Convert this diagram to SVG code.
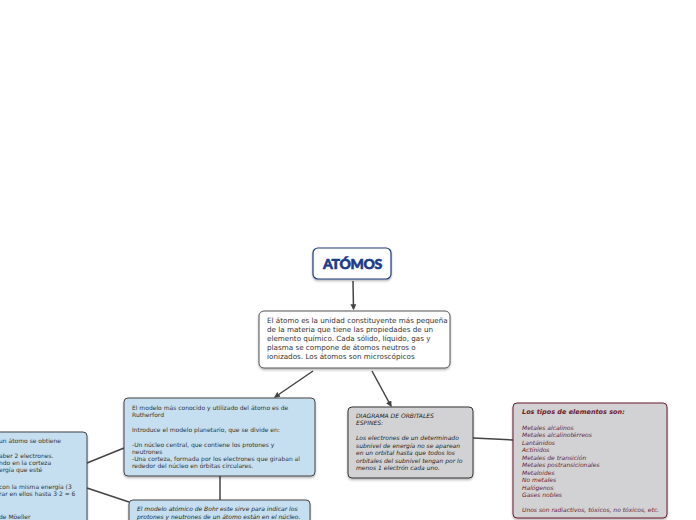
<svg xmlns="http://www.w3.org/2000/svg" width="696" height="520" viewBox="0 0 696 520">
<defs>
<marker id="ar" viewBox="0 0 10 10" refX="8" refY="5" markerWidth="4" markerHeight="4" orient="auto"><path d="M0,0L10,5L0,10z" fill="#444"/></marker>
<filter id="sh" x="-10%" y="-10%" width="120%" height="130%"><feDropShadow dx="0" dy="1.5" stdDeviation="1" flood-color="#000" flood-opacity="0.3"/></filter>
</defs>
<style>
text{font-family:"DejaVu Sans",Verdana,sans-serif;font-size:6px;fill:#333}
.b{fill:#c5dff0;stroke:#444;stroke-width:1}
.g{fill:#d2d2d4;stroke:#333;stroke-width:1}
.i{font-style:italic;fill:#222}
.m{font-style:italic;fill:#6b1a2c}
.c{stroke:#444;stroke-width:1.5;fill:none}
</style>
<rect width="696" height="520" fill="#fff"/>
<g id="connectors">
<path class="c" d="M353,281L353.5,309" marker-end="url(#ar)"/>
<path class="c" d="M313,371L275,397" marker-end="url(#ar)"/>
<path class="c" d="M372,371L391,406" marker-end="url(#ar)"/>
<path class="c" d="M220,476L220,500"/>
<path class="c" d="M124,448L87,463"/>
<path class="c" d="M129,502L87,488"/>
<path class="c" d="M473,438L513,440"/>
</g>
<g id="atomos"><rect x="313" y="248" width="78" height="31" rx="5" fill="#fff" stroke="#1f3a7a" stroke-width="1.2" filter="url(#sh)"/>
<text x="352.5" y="269" text-anchor="middle" style="font-size:14px;font-weight:900;fill:#1c3a8a;font-family:'Lato','DejaVu Sans',sans-serif;stroke:#1c3a8a;stroke-width:0.6;letter-spacing:-0.3px">ATÓMOS</text></g>
<g id="main"><rect x="259" y="311" width="191" height="57" rx="5" fill="#fff" stroke="#555" filter="url(#sh)"/>
<text style="font-size:7.2px" x="267"><tspan y="323">El átomo es la unidad constituyente más pequeña</tspan><tspan x="267" y="332">de la materia que tiene las propiedades de un</tspan><tspan x="267" y="341">elemento químico. Cada sólido, líquido, gas y</tspan><tspan x="267" y="350">plasma se compone de átomos neutros o</tspan><tspan x="267" y="359">ionizados. Los átomos son microscópicos</tspan></text></g>
<g id="rutherford"><rect class="b" x="124" y="398" width="191" height="78" rx="4" filter="url(#sh)"/>
<text x="132"><tspan y="410">El modelo más conocido y utilizado del átomo es de</tspan><tspan x="132" y="417">Rutherford</tspan><tspan x="132" y="432">Introduce el modelo planetario, que se divide en:</tspan><tspan x="132" y="447">-Un núcleo central, que contiene los protones y</tspan><tspan x="132" y="454">neutrones</tspan><tspan x="132" y="461">-Una corteza, formada por los electrones que giraban al</tspan><tspan x="132" y="468">rededor del núcleo en órbitas circulares.</tspan></text></g>
<g id="bohr"><rect class="b" x="129" y="500" width="181" height="40" rx="4" stroke="#222" filter="url(#sh)"/>
<text class="i" x="137"><tspan y="511">El modelo atómico de Bohr este sirve para indicar los</tspan><tspan x="137" y="519">protones y neutrones de un átomo están en el núcleo.</tspan></text></g>
<g id="left"><rect class="b" x="-20" y="432" width="107" height="110" rx="4" filter="url(#sh)"/>
<text x="-1"><tspan y="443">un átomo se obtiene</tspan><tspan x="-1" y="458">aber 2 electrones.</tspan><tspan x="-1" y="465">ndo en la corteza</tspan><tspan x="-1" y="472">ergía que esté</tspan><tspan x="-1" y="489">con la misma energía (3</tspan><tspan x="-1" y="496">rar en ellos hasta 3·2 = 6</tspan><tspan x="-1" y="519">de Möeller</tspan></text></g>
<g id="diagrama"><rect class="g" x="348" y="407" width="125" height="71" rx="4" filter="url(#sh)"/>
<text class="i" x="356"><tspan y="418">DIAGRAMA DE ORBITALES</tspan><tspan x="356" y="425">ESPINES:</tspan><tspan x="356" y="440">Los electrones de un determinado</tspan><tspan x="356" y="448">subnivel de energía no se aparean</tspan><tspan x="356" y="455">en un orbital hasta que todos los</tspan><tspan x="356" y="463">orbitales del subnivel tengan por lo</tspan><tspan x="356" y="470">menos 1 electrón cada uno.</tspan></text></g>
<g id="tipos"><rect x="513" y="403" width="154" height="115" rx="4" fill="#d2d2d4" stroke="#6b1a2c" filter="url(#sh)"/>
<text class="m" x="522"><tspan y="414" style="font-weight:bold;font-size:6.5px">Los tipos de elementos son:</tspan><tspan x="522" y="430">Metales alcalinos</tspan><tspan x="522" y="437">Metales alcalinotérreos</tspan><tspan x="522" y="445">Lantánidos</tspan><tspan x="522" y="452">Actínidos</tspan><tspan x="522" y="460">Metales de transición</tspan><tspan x="522" y="467">Metales postransicionales</tspan><tspan x="522" y="475">Metaloides</tspan><tspan x="522" y="482">No metales</tspan><tspan x="522" y="490">Halógenos</tspan><tspan x="522" y="497">Gases nobles</tspan><tspan x="522" y="512">Unos son radiactivos, tóxicos, no tóxicos, etc.</tspan></text></g>
</svg>
